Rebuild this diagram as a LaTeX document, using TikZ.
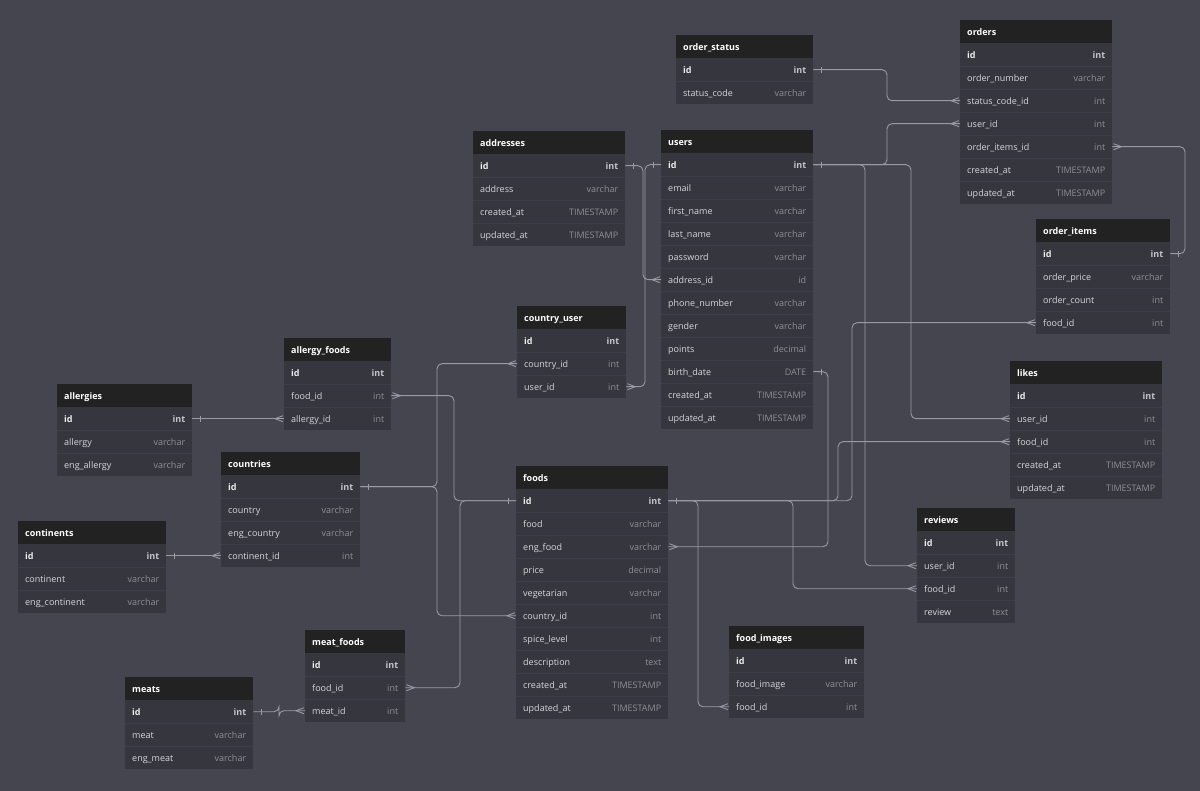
\documentclass[tikz,border=0pt]{standalone}
\usepackage{fontspec}
\setmainfont{Open Sans}
\usetikzlibrary{calc}
\definecolor{bgc}{HTML}{45454F}
\definecolor{hdrc}{HTML}{222222}
\definecolor{rowc}{HTML}{36363F}
\definecolor{sepc}{HTML}{3E3E48}
\definecolor{namec}{HTML}{D6D6DA}
\definecolor{typec}{HTML}{8E8E96}
\definecolor{pkc}{HTML}{EDEDED}
\definecolor{pktc}{HTML}{C4C4CA}
\definecolor{relc}{HTML}{9A9AA6}
\tikzset{
  hdr/.style={fill=hdrc, text=white, font=\fontsize{9}{10}\selectfont\bfseries, anchor=north west,
    minimum height=23pt, inner xsep=7pt, inner ysep=0pt, align=left, text height=8pt, text depth=1pt},
  fieldrow/.style={fill=rowc, text=namec, font=\fontsize{9}{10}\selectfont, anchor=north west,
    minimum height=23pt, inner xsep=7pt, inner ysep=0pt, align=left, text height=8pt, text depth=1pt},
  rel/.style={draw=relc, line width=0.9pt, rounded corners=5pt},
  tickmark/.style={draw=relc, line width=0.9pt},
  sepline/.style={draw=sepc, line width=0.6pt}
}
\newcommand{\erdtable}[6]{%
  \pgfmathsetmacro{\erdtw}{#4-14}%
  \node[hdr, minimum width=#4pt, text width=\erdtw pt] (#1) at (#2,#3) {#5};
  \foreach \fn/\ft [count=\i] in {#6} {
    \ifnum\i=1
      \node[fieldrow, minimum width=#4pt, text width=\erdtw pt] (#1-\i) at (#2,{#3+23*\i}) {\bfseries\color{pkc}\fn\hfill{\color{pktc}\ft}};
    \else
      \node[fieldrow, minimum width=#4pt, text width=\erdtw pt] (#1-\i) at (#2,{#3+23*\i}) {\fn\hfill{\color{typec}\ft}};
      \draw[sepline] (#1-\i.north west) -- (#1-\i.north east);
    \fi
  }
}
% markers
\newcommand{\oneE}[1]{\draw[tickmark] ([xshift=8pt,yshift=-3pt]#1) -- ([xshift=8pt,yshift=3pt]#1);}
\newcommand{\oneW}[1]{\draw[tickmark] ([xshift=-8pt,yshift=-3pt]#1) -- ([xshift=-8pt,yshift=3pt]#1);}
\newcommand{\crowW}[1]{\draw[tickmark] ([xshift=-1pt,yshift=3pt]#1) -- ([xshift=-9pt]#1) -- ([xshift=-1pt,yshift=-3pt]#1);}
\newcommand{\crowE}[1]{\draw[tickmark] ([xshift=1pt,yshift=3pt]#1) -- ([xshift=9pt]#1) -- ([xshift=1pt,yshift=-3pt]#1);}
\begin{document}
\begin{tikzpicture}[x=1pt,y=-1pt]
\fill[bgc] (0,0) rectangle (1200,791);
\useasboundingbox (0,0) rectangle (1200,791);

\erdtable{order_status}{676}{35}{137}{order\_status}{id/int, status\_code/varchar}
\erdtable{orders}{960}{20}{152}{orders}{id/int, order\_number/varchar, status\_code\_id/int, user\_id/int, order\_items\_id/int, created\_at/TIMESTAMP, updated\_at/TIMESTAMP}
\erdtable{users}{661}{130}{152}{users}{id/int, email/varchar, first\_name/varchar, last\_name/varchar, password/varchar, address\_id/id, phone\_number/varchar, gender/varchar, points/decimal, birth\_date/DATE, created\_at/TIMESTAMP, updated\_at/TIMESTAMP}
\erdtable{addresses}{473}{131}{152}{addresses}{id/int, address/varchar, created\_at/TIMESTAMP, updated\_at/TIMESTAMP}
\erdtable{order_items}{1036}{219}{134}{order\_items}{id/int, order\_price/varchar, order\_count/int, food\_id/int}
\erdtable{likes}{1010}{361}{152}{likes}{id/int, user\_id/int, food\_id/int, created\_at/TIMESTAMP, updated\_at/TIMESTAMP}
\erdtable{country_user}{517}{306}{109}{country\_user}{id/int, country\_id/int, user\_id/int}
\erdtable{allergy_foods}{284}{338}{107}{allergy\_foods}{id/int, food\_id/int, allergy\_id/int}
\erdtable{allergies}{57}{384}{135}{allergies}{id/int, allergy/varchar, eng\_allergy/varchar}
\erdtable{countries}{221}{452}{139}{countries}{id/int, country/varchar, eng\_country/varchar, continent\_id/int}
\erdtable{continents}{18}{521}{148}{continents}{id/int, continent/varchar, eng\_continent/varchar}
\erdtable{foods}{516}{466}{152}{foods}{id/int, food/varchar, eng\_food/varchar, price/decimal, vegetarian/varchar, country\_id/int, spice\_level/int, description/text, created\_at/TIMESTAMP, updated\_at/TIMESTAMP}
\erdtable{reviews}{917}{508}{98}{reviews}{id/int, user\_id/int, food\_id/int, review/text}
\erdtable{food_images}{729}{626}{135}{food\_images}{id/int, food\_image/varchar, food\_id/int}
\erdtable{meat_foods}{305}{630}{100}{meat\_foods}{id/int, food\_id/int, meat\_id/int}
\erdtable{meats}{125}{677}{128}{meats}{id/int, meat/varchar, eng\_meat/varchar}

% bus coordinates
\coordinate (x887) at (887,0);
\coordinate (x1185) at (1185,0);
\coordinate (x643) at (643,0);
\coordinate (x645) at (645,0);
\coordinate (x911) at (911,0);
\coordinate (x865) at (865,0);
\coordinate (x828) at (828,0);
\coordinate (x852) at (852,0);
\coordinate (x838) at (838,0);
\coordinate (x793) at (793,0);
\coordinate (x698) at (698,0);
\coordinate (x460) at (460,0);
\coordinate (x454) at (454,0);
\coordinate (x437) at (437,0);
\coordinate (x279) at (279,0);

% connectors
\draw[rel] (order_status-1.east) -- (order_status-1.east -| x887) |- (orders-3.west);
\draw[rel] (users-1.east) -- (users-1.east -| x887) |- (orders-4.west);
\draw[rel] (orders-5.east) -- (orders-5.east -| x1185) |- (order_items-1.east);
\draw[rel] (addresses-1.east) -- (addresses-1.east -| x643) |- (users-6.west);
\draw[rel] (users-1.west) -- (users-1.west -| x645) |- (country_user-3.east);
\draw[rel] (users-1.east) -- (users-1.east -| x911) |- (likes-2.west);
\draw[rel] (users-1.east) -- (users-1.east -| x865) |- (reviews-2.west);
\draw[rel] (users-10.east) -- (users-10.east -| x828) |- (foods-3.east);
\draw[rel] (foods-1.east) -- (foods-1.east -| x852) |- (order_items-4.west);
\draw[rel] (foods-1.east) -- (foods-1.east -| x838) |- (likes-3.west);
\draw[rel] (foods-1.east) -- (foods-1.east -| x793) |- (reviews-3.west);
\draw[rel] (foods-1.east) -- (foods-1.east -| x698) |- (food_images-3.west);
\draw[rel] (foods-1.west) -- (foods-1.west -| x460) |- (meat_foods-2.east);
\draw[rel] (foods-1.west) -- (foods-1.west -| x454) |- (allergy_foods-2.east);
\draw[rel] (countries-1.east) -- (countries-1.east -| x437) |- (country_user-2.west);
\draw[rel] (countries-1.east) -- (countries-1.east -| x437) |- (foods-6.west);
\draw[rel] (allergies-1.east) -- (allergy_foods-3.west);
\draw[rel] (continents-1.east) -- (countries-4.west);
\draw[rel] (meats-1.east) -- (meats-1.east -| x279) |- (meat_foods-3.west);

% one-side markers
\oneE{order_status-1.east}
\oneE{users-1.east}
\oneW{users-1.west}
\oneE{order_items-1.east}
\oneE{addresses-1.east}
\oneE{users-10.east}
\oneE{foods-1.east}
\oneW{foods-1.west}
\oneE{countries-1.east}
\oneE{allergies-1.east}
\oneE{continents-1.east}
\oneE{meats-1.east}

% many-side markers
\crowW{orders-3.west}
\crowW{orders-4.west}
\crowE{orders-5.east}
\crowW{users-6.west}
\crowE{country_user-3.east}
\crowW{likes-2.west}
\crowW{likes-3.west}
\crowW{reviews-2.west}
\crowW{reviews-3.west}
\crowE{foods-3.east}
\crowW{order_items-4.west}
\crowW{food_images-3.west}
\crowE{meat_foods-2.east}
\crowE{allergy_foods-2.east}
\crowW{country_user-2.west}
\crowW{foods-6.west}
\crowW{allergy_foods-3.west}
\crowW{countries-4.west}
\crowW{meat_foods-3.west}
\end{tikzpicture}
\end{document}
